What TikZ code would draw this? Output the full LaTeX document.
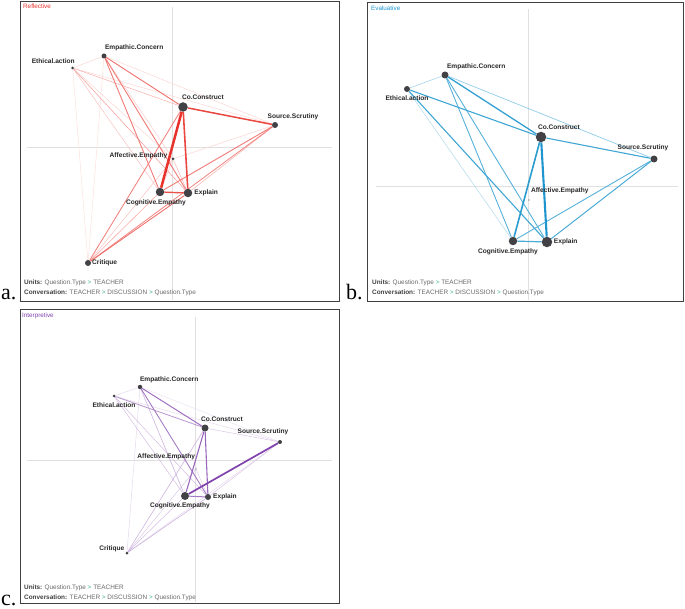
\documentclass[tikz,border=0pt]{standalone}
\usepackage{fontspec}
\setmainfont{Liberation Serif}
\setsansfont{Liberation Sans}
\usepackage{xcolor}
\usepackage{tikz}
\usetikzlibrary{positioning}
\definecolor{reflred}{RGB}{232,50,44}
\definecolor{evalblue}{RGB}{30,150,205}
\definecolor{interpurple}{RGB}{128,66,172}
\definecolor{dotgray}{RGB}{66,66,70}
\definecolor{gridgray}{RGB}{224,224,224}
\definecolor{sepgreen}{RGB}{60,176,148}
\definecolor{footgray}{RGB}{105,105,105}
\newcommand{\gtsep}{\textcolor{sepgreen}{>}}
\pgfdeclarelayer{grid}
\pgfdeclarelayer{links}
\pgfsetlayers{grid,links,main}

\begin{document}
\begin{tikzpicture}[
    x=1pt, y=-1pt,
    netnode/.style={circle, fill=dotgray, inner sep=0pt, minimum size=#1},
    lbl/.style={font=\sffamily\bfseries\fontsize{6.6}{7}\selectfont, inner sep=0.8pt, text=black!85},
    panel/.style={draw=black!75, line width=0.6pt},
    axis/.style={draw=gridgray, line width=0.5pt},
    foot/.style={font=\sffamily\fontsize{6.4}{7}\selectfont, text=footgray, anchor=west, inner sep=0pt},
    heading/.style={font=\sffamily\fontsize{6.3}{7}\selectfont, anchor=west, inner sep=0pt},
    tag/.style={font=\fontsize{22}{22}\selectfont, anchor=base west, inner sep=0pt},
    lnk/.style 2 args={draw=#1, line width=#2}
]
\useasboundingbox (0,0) rectangle (685,609);

% Frames and sub-figure tags
\draw[panel] (20,1) rectangle (339,301);
\draw[panel] (367,2) rectangle (683,301);
\draw[panel] (20,309) rectangle (339,603);
\node[tag] (tagA) at (1,300) {a.};
\node[tag] (tagB) at (346,300) {b.};
\node[tag] (tagC) at (1,605) {c.};

% Axes
\begin{pgfonlayer}{grid}
\draw[axis] (172,7) -- (172,300);
\draw[axis] (27,147) -- (332,147);
\draw[axis] (528,9) -- (528,300);
\draw[axis] (376,186) -- (678,186);
\draw[axis] (195,317) -- (195,602);
\draw[axis] (27,460) -- (332,460);
\end{pgfonlayer}

% Panel a: Reflective
\node[heading, text=reflred] (aTitle) at (23,6) {Reflective};
\node[netnode=3pt, label={[lbl,anchor=south east,xshift=3pt,yshift=2pt]north:Ethical.action}] (aEth) at (72.7,68) {};
\node[netnode=5pt, label={[lbl,anchor=south west,yshift=1pt]north:Empathic.Concern}] (aEmp) at (104,56) {};
\node[netnode=9.5pt, label={[lbl,anchor=south west,xshift=-2pt,yshift=1pt]north:Co.Construct}] (aCo) at (183,107) {};
\node[netnode=6pt, label={[lbl,anchor=south,xshift=18pt,yshift=1pt]north:Source.Scrutiny}] (aSrc) at (275,125) {};
\node[netnode=3pt, label={[lbl,anchor=east,xshift=-3pt,yshift=3pt]west:Affective.Empathy}] (aAff) at (173,159) {};
\node[netnode=8.5pt, label={[lbl,anchor=north,xshift=-4pt,yshift=-2pt]south:Cognitive.Empathy}] (aCog) at (160,192) {};
\node[netnode=8.5pt, label={[lbl,anchor=west,xshift=1pt]east:Explain}] (aExp) at (188,193) {};
\node[netnode=6pt, label={[lbl,anchor=west]east:Critique}] (aCri) at (88,263) {};
\node[foot] (aUnits) at (24,282.5) {\textcolor{black!75}{\bfseries Units:} Question.Type \gtsep{} TEACHER};
\node[foot] (aConv) at (24,293) {\textcolor{black!75}{\bfseries Conversation:} TEACHER \gtsep{} DISCUSSION \gtsep{} Question.Type};

\begin{pgfonlayer}{links}
\foreach \ua/\ub/\pc/\lw in {Emp/Src/20/0.5, Emp/Eth/20/0.5, Emp/Cri/15/0.5, Emp/Aff/25/0.5,
    Eth/Src/20/0.5, Eth/Aff/20/0.5, Eth/Cri/15/0.5, Eth/Cog/30/0.5, Eth/Co/35/0.6, Eth/Exp/45/0.6,
    Src/Aff/20/0.5, Src/Exp/35/0.6, Aff/Exp/35/0.5, Aff/Cog/25/0.5,
    Cri/Aff/30/0.5, Cri/Cog/40/0.6, Cri/Src/60/0.8, Cri/Co/65/0.8, Cri/Exp/70/0.9,
    Emp/Co/70/0.9, Emp/Cog/65/0.9, Emp/Exp/65/0.9, Src/Cog/65/0.9,
    Cog/Exp/85/1.4, Co/Src/90/1.5, Co/Exp/90/1.6, Co/Cog/100/2.5}
  \draw[lnk={reflred!\pc}{\lw pt}] (a\ua) -- (a\ub);
\end{pgfonlayer}

% Panel b: Evaluative
\node[heading, text=evalblue] (bTitle) at (371,8) {Evaluative};
\node[netnode=7pt, label={[lbl,anchor=south west,xshift=1pt]north:Empathic.Concern}] (bEmp) at (445,75) {};
\node[netnode=6pt, label={[lbl,anchor=north,yshift=-3pt]south:Ethical.action}] (bEth) at (407,89) {};
\node[netnode=10.5pt, label={[lbl,anchor=south west,xshift=-4pt,yshift=1pt]north:Co.Construct}] (bCo) at (541,137) {};
\node[netnode=7pt, label={[lbl,anchor=south,xshift=-11pt,yshift=3pt]north:Source.Scrutiny}] (bSrc) at (654,159) {};
\node[netnode=1.2pt, label={[lbl,anchor=south west,xshift=1pt,yshift=4pt]north:Affective.Empathy}] (bAff) at (529,200) {};
\node[netnode=8.5pt, label={[lbl,anchor=north,xshift=-5pt,yshift=-2pt]south:Cognitive.Empathy}] (bCog) at (513,241) {};
\node[netnode=10.5pt, label={[lbl,anchor=west,xshift=0.5pt]east:Explain}] (bExp) at (547,242) {};
\node[foot] (bUnits) at (372,282.5) {\textcolor{black!75}{\bfseries Units:} Question.Type \gtsep{} TEACHER};
\node[foot] (bConv) at (372,293) {\textcolor{black!75}{\bfseries Conversation:} TEACHER \gtsep{} DISCUSSION \gtsep{} Question.Type};

\begin{pgfonlayer}{links}
\foreach \ua/\ub/\pc/\lw in {Eth/Cog/35/0.5, Emp/Eth/40/0.6, Emp/Src/50/0.7,
    Emp/Cog/75/0.9, Emp/Exp/75/0.9, Src/Cog/75/0.9, Src/Exp/80/1.0,
    Eth/Co/85/1.1, Eth/Exp/85/1.1, Co/Src/85/1.1, Cog/Exp/80/1.2,
    Emp/Co/90/1.3, Co/Cog/95/1.6, Co/Exp/100/2.1}
  \draw[lnk={evalblue!\pc}{\lw pt}] (b\ua) -- (b\ub);
\end{pgfonlayer}

% Panel c: Interpretive
\node[heading, text=interpurple] (cTitle) at (22,316) {Interpretive};
\node[netnode=4.5pt, label={[lbl,anchor=south west,xshift=-1pt,yshift=1pt]north:Empathic.Concern}] (cEmp) at (140,387) {};
\node[netnode=3pt, label={[lbl,anchor=north,yshift=-4pt]south:Ethical.action}] (cEth) at (114,396) {};
\node[netnode=7pt, label={[lbl,anchor=south west,xshift=-5pt,yshift=2pt]north:Co.Construct}] (cCo) at (205,428) {};
\node[netnode=4pt, label={[lbl,anchor=south,xshift=-17pt,yshift=4pt]north:Source.Scrutiny}] (cSrc) at (280,442) {};
\node[netnode=1.2pt, label={[lbl,anchor=south east,yshift=7pt]north:Affective.Empathy}] (cAff) at (196,469) {};
\node[netnode=8pt, label={[lbl,anchor=north,xshift=-5pt,yshift=-2pt]south:Cognitive.Empathy}] (cCog) at (185,496) {};
\node[netnode=6pt, label={[lbl,anchor=west,xshift=1pt]east:Explain}] (cExp) at (208,497) {};
\node[netnode=3pt, label={[lbl,anchor=east,yshift=4pt]west:Critique}] (cCri) at (127,553) {};
\node[foot] (cUnits) at (24,588) {\textcolor{black!75}{\bfseries Units:} Question.Type \gtsep{} TEACHER};
\node[foot] (cConv) at (24,598) {\textcolor{black!75}{\bfseries Conversation:} TEACHER \gtsep{} DISCUSSION \gtsep{} Question.Type};

\begin{pgfonlayer}{links}
\foreach \ua/\ub/\pc/\lw in {Emp/Eth/20/0.5, Emp/Src/15/0.5, Emp/Cri/20/0.5, Eth/Src/20/0.5,
    Src/Cri/20/0.5, Aff/Exp/25/0.5, Co/Src/30/0.5, Src/Exp/30/0.5, Cri/Aff/30/0.5,
    Eth/Cog/35/0.5, Eth/Exp/35/0.5, Cri/Cog/35/0.5, Cri/Exp/40/0.6, Co/Cri/40/0.6, Emp/Cog/40/0.6,
    Eth/Co/55/0.8, Emp/Exp/70/0.9, Cog/Exp/70/1.0, Emp/Co/75/1.0,
    Co/Cog/80/1.1, Co/Exp/80/1.1, Src/Cog/100/1.7}
  \draw[lnk={interpurple!\pc}{\lw pt}] (c\ua) -- (c\ub);
\end{pgfonlayer}

\end{tikzpicture}
\end{document}
